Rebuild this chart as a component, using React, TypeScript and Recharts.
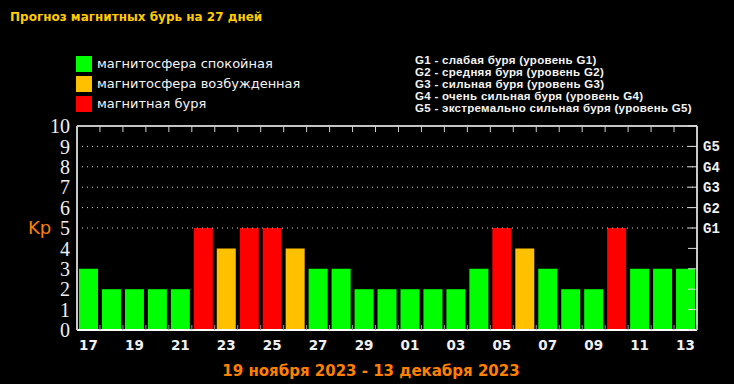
import {
  ComposedChart, Bar, Line, Cell, XAxis, YAxis, ReferenceLine,
} from 'recharts';

const days = ['17', '18', '19', '20', '21', '22', '23', '24', '25', '26', '27', '28', '29', '30',
  '01', '02', '03', '04', '05', '06', '07', '08', '09', '10', '11', '12', '13'];
const kpValues = [3, 2, 2, 2, 2, 5, 4, 5, 5, 4, 3, 3, 2, 2, 2, 2, 2, 3, 5, 4, 3, 2, 2, 5, 3, 3, 3];

const kpTicks = [0, 1, 2, 3, 4, 5, 6, 7, 8, 9, 10];
const stormLevels = [5, 6, 7, 8, 9];
const stormLabels = ['G1', 'G2', 'G3', 'G4', 'G5'];

const legendItems = [
  { label: 'магнитосфера спокойная', color: '#00ff00' },
  { label: 'магнитосфера возбужденная', color: '#ffc000' },
  { label: 'магнитная буря', color: '#ff0000' },
];

const stormNotes = [
  'G1 - слабая буря (уровень G1)',
  'G2 - средняя буря (уровень G2)',
  'G3 - сильная буря (уровень G3)',
  'G4 - очень сильная буря (уровень G4)',
  'G5 - экстремально сильная буря (уровень G5)',
];

const title = 'Прогноз магнитных бурь на 27 дней';
const period = '19 ноября 2023 - 13 декабря 2023';

const data = days.map((d, i) => ({ day: d, kp: kpValues[i] }));

function barColor(v: number) {
  if (v >= 5) return legendItems[2].color;
  if (v >= 4) return legendItems[1].color;
  return legendItems[0].color;
}

const HALF_BAND = 620 / 27 / 2;

function BottomTick(props: any) {
  const { x, y, index, payload } = props;
  const off = payload?.offset || HALF_BAND;
  return (
    <g>
      <line x1={x + off} x2={x + off} y1={y} y2={y - 5} stroke="#9a9a9a" strokeWidth={1} />
      {index % 2 === 0 && (
        <text x={x} y={y + 20} textAnchor="middle" fill="#f0f0f0"
          style={{ fontFamily: 'DejaVu Sans', fontWeight: 'bold', fontSize: 13.5 }}>
          {payload.value}
        </text>
      )}
    </g>
  );
}

function TopTick(props: any) {
  const { x, y, index, payload } = props;
  const off = payload?.offset || HALF_BAND;
  if (index === days.length - 1) return <g />;
  return <line x1={x + off} x2={x + off} y1={y} y2={y + 6} stroke="#d0d0d0" strokeWidth={1} />;
}

function RightTick(props: any) {
  const { x, y, payload } = props;
  const idx = stormLevels.indexOf(Number(payload.value));
  return (
    <g>
      <line x1={x - 15} x2={x - 6} y1={y} y2={y} stroke="#e0e0e0" strokeWidth={1} />
      {idx >= 0 && (
        <text x={x} y={y + 5} textAnchor="start" fill="#f0f0f0"
          style={{ fontFamily: 'Liberation Mono', fontWeight: 'bold', fontSize: 14 }}>
          {stormLabels[idx]}
        </text>
      )}
    </g>
  );
}

export default function App() {
  return (
    <div style={{
      position: 'absolute', left: 0, top: 0, width: 734, height: 384,
      background: '#000', overflow: 'hidden',
    }}>
      <div style={{
        position: 'absolute', left: 10, top: 10, color: '#ffcc00',
        fontFamily: 'DejaVu Sans', fontWeight: 'bold', fontSize: 12, whiteSpace: 'nowrap',
      }}>
        {title}
      </div>

      <div style={{ position: 'absolute', left: 76, top: 54 }}>
        {legendItems.map(item => (
          <div key={item.label} style={{ display: 'flex', alignItems: 'center', height: 20 }}>
            <div style={{ width: 16, height: 16, background: item.color }} />
            <span style={{
              marginLeft: 5, color: '#f4f4f4', fontFamily: 'DejaVu Sans', fontSize: 13,
              whiteSpace: 'nowrap', marginTop: -2,
            }}>
              {item.label}
            </span>
          </div>
        ))}
      </div>

      <div style={{ position: 'absolute', left: 415, top: 54 }}>
        {stormNotes.map(t => (
          <div key={t} style={{
            color: '#f4f4f4', fontFamily: 'Liberation Sans', fontWeight: 'bold', fontSize: 11.5,
            letterSpacing: 0.3, lineHeight: '12px', whiteSpace: 'nowrap',
          }}>
            {t}
          </div>
        ))}
      </div>

      <ComposedChart
        width={734}
        height={384}
        data={data}
        margin={{ top: 125, right: 0, bottom: 0, left: 0 }}
        barCategoryGap={2}
      >
        <XAxis
          dataKey="day"
          height={54}
          interval={0}
          tickSize={0}
          tickMargin={0}
          axisLine={{ stroke: '#ffffff', strokeWidth: 2 }}
          tick={<BottomTick />}
          label={{
            value: period, position: 'insideBottom', offset: 8, dx: -16, fill: '#ff8000',
            style: { fontFamily: 'DejaVu Sans', fontWeight: 'bold', fontSize: 15 },
          }}
        />
        <XAxis
          xAxisId="top"
          dataKey="day"
          orientation="top"
          height={1}
          interval={0}
          tickSize={0}
          tickMargin={0}
          axisLine={{ stroke: '#d0d0d0', strokeWidth: 1.5 }}
          tick={<TopTick />}
        />
        <YAxis
          width={77}
          domain={[0, 10]}
          ticks={kpTicks}
          interval={0}
          tickSize={0}
          tickMargin={7}
          axisLine={{ stroke: '#c8c8c8', strokeWidth: 2 }}
          tick={{ fill: '#f0f0f0', fontSize: 20, fontFamily: 'Liberation Serif' }}
          label={{
            value: 'Kp', position: 'insideLeft', offset: 28, fill: '#ff8000',
            style: { fontFamily: 'DejaVu Sans', fontSize: 18 },
          }}
        />
        <YAxis
          yAxisId="right"
          orientation="right"
          type="number"
          width={37}
          domain={[0, 10]}
          ticks={kpTicks}
          interval={0}
          tickSize={0}
          tickMargin={6}
          axisLine={{ stroke: '#c8c8c8', strokeWidth: 2 }}
          tick={<RightTick />}
        />
        <ReferenceLine y={10} stroke="#d0d0d0" strokeWidth={1.5} />
        {stormLevels.map(v => (
          <ReferenceLine key={v} y={v} stroke="#d8d8d8" strokeDasharray="1 4" />
        ))}
        <Bar dataKey="kp" isAnimationActive={false}>
          {data.map((d, i) => (
            <Cell key={i} fill={barColor(d.kp)} />
          ))}
        </Bar>
        <Line
          xAxisId="top"
          yAxisId="right"
          dataKey="kp"
          stroke="none"
          dot={false}
          activeDot={false}
          legendType="none"
          isAnimationActive={false}
        />
      </ComposedChart>
    </div>
  );
}
